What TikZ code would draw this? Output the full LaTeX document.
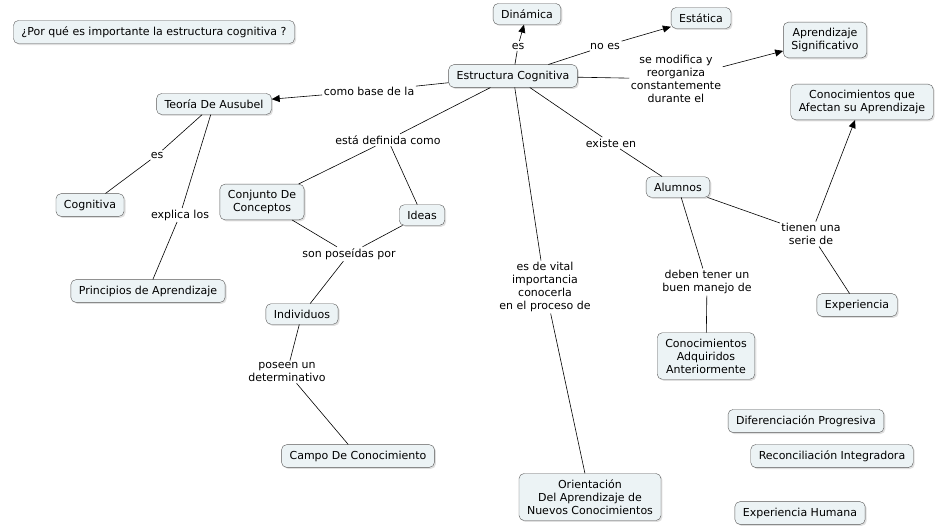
\documentclass[tikz,border=0pt]{standalone}
\usepackage{fontspec}
\setmainfont{DejaVu Sans}
\usetikzlibrary{arrows.meta,shadows}
\definecolor{boxfill}{RGB}{236,243,245}
\begin{document}
\begin{tikzpicture}[x=1pt,y=-1pt,
 c/.style={draw=gray!70!black,fill=boxfill,rounded corners=5pt,align=center,inner xsep=8pt,inner ysep=6pt,font=\fontsize{11}{13}\selectfont,drop shadow={shadow xshift=1.5pt,shadow yshift=-1.5pt,fill=gray!50}},
 l/.style={align=center,fill=white,inner sep=1.5pt,font=\fontsize{11}{13}\selectfont},
 ln/.style={draw,line width=0.6pt},
 ar/.style={ln,-{Triangle[length=8pt,width=7pt]}}]
\useasboundingbox (0,0) rectangle (944,531);
\node[c] (q) at (154,32) {¿Por qué es importante la estructura cognitiva ?};
\node[c] (din) at (527,14) {Dinámica};
\node[c] (est) at (701,18) {Estática};
\node[c] (as) at (825,40) {Aprendizaje\\Significativo};
\node[c] (ec) at (513,76) {Estructura Cognitiva};
\node[c] (ta) at (214,104) {Teoría De Ausubel};
\node[c] (caa) at (862,102) {Conocimientos que\\Afectan su Aprendizaje};
\node[c] (cog) at (90,205) {Cognitiva};
\node[c] (cc) at (262,202) {Conjunto De\\Conceptos};
\node[c] (id) at (422,215) {Ideas};
\node[c] (al) at (678,187) {Alumnos};
\node[c] (pa) at (148,291) {Principios de Aprendizaje};
\node[c] (ind) at (302,314) {Individuos};
\node[c] (exp) at (857,305) {Experiencia};
\node[c] (cad) at (706,356) {Conocimientos\\Adquiridos\\Anteriormente};
\node[c] (cdc) at (358,456) {Campo De Conocimiento};
\node[c] (dp) at (806,421) {Diferenciación Progresiva};
\node[c] (ri) at (832,456) {Reconciliación Integradora};
\node[c] (or) at (590,497) {Orientación\\Del Aprendizaje de\\Nuevos Conocimientos};
\node[c] (eh) at (800,513) {Experiencia Humana};
% labels
\node[l] (l1) at (518,46) {es};
\node[l] (l2) at (605,46) {no es};
\node[l] (l3) at (676,79) {se modifica y\\reorganiza\\constantemente\\durante el};
\node[l] (l4) at (369,91) {como base de la};
\node[l] (l5) at (388,140) {está definida como};
\node[l] (l6) at (611,143) {existe en};
\node[l] (l7) at (545,287) {es de vital\\importancia\\conocerla\\en el proceso de};
\node[l] (l8) at (157,155) {es};
\node[l] (l9) at (180,215) {explica los};
\node[l] (l10) at (349,254) {son poseídas por};
\node[l] (l11) at (287,372) {poseen un\\determinativo};
\node[l] (l12) at (707,282) {deben tener un\\buen manejo de};
\node[l] (l13) at (811,234) {tienen una\\serie de};
% connectors
\draw[ln] (ec) -- (l1); \draw[ar] (l1) -- (din);
\draw[ln] (ec) -- (l2); \draw[ar] (l2) -- (est);
\draw[ln] (ec) -- (l3); \draw[ar] (l3) -- (as);
\draw[ln] (ec) -- (l4); \draw[ar] (l4) -- (ta);
\draw[ln] (ec) -- (l5); \draw[ln] (l5) -- (cc); \draw[ln] (l5) -- (id);
\draw[ln] (ec) -- (l6); \draw[ln] (l6) -- (al);
\draw[ln] (ec) -- (l7); \draw[ln] (l7) -- (or);
\draw[ln] (ta) -- (l8); \draw[ln] (l8) -- (cog);
\draw[ln] (ta) -- (l9); \draw[ln] (l9) -- (pa);
\draw[ln] (cc) -- (l10); \draw[ln] (id) -- (l10); \draw[ln] (l10) -- (ind);
\draw[ln] (ind) -- (l11); \draw[ln] (l11) -- (cdc);
\draw[ln] (al) -- (l12); \draw[ln] (l12) -- (cad);
\draw[ln] (al) -- (l13); \draw[ln] (exp) -- (l13); \draw[ar] (l13) -- (caa);
\end{tikzpicture}
\end{document}
